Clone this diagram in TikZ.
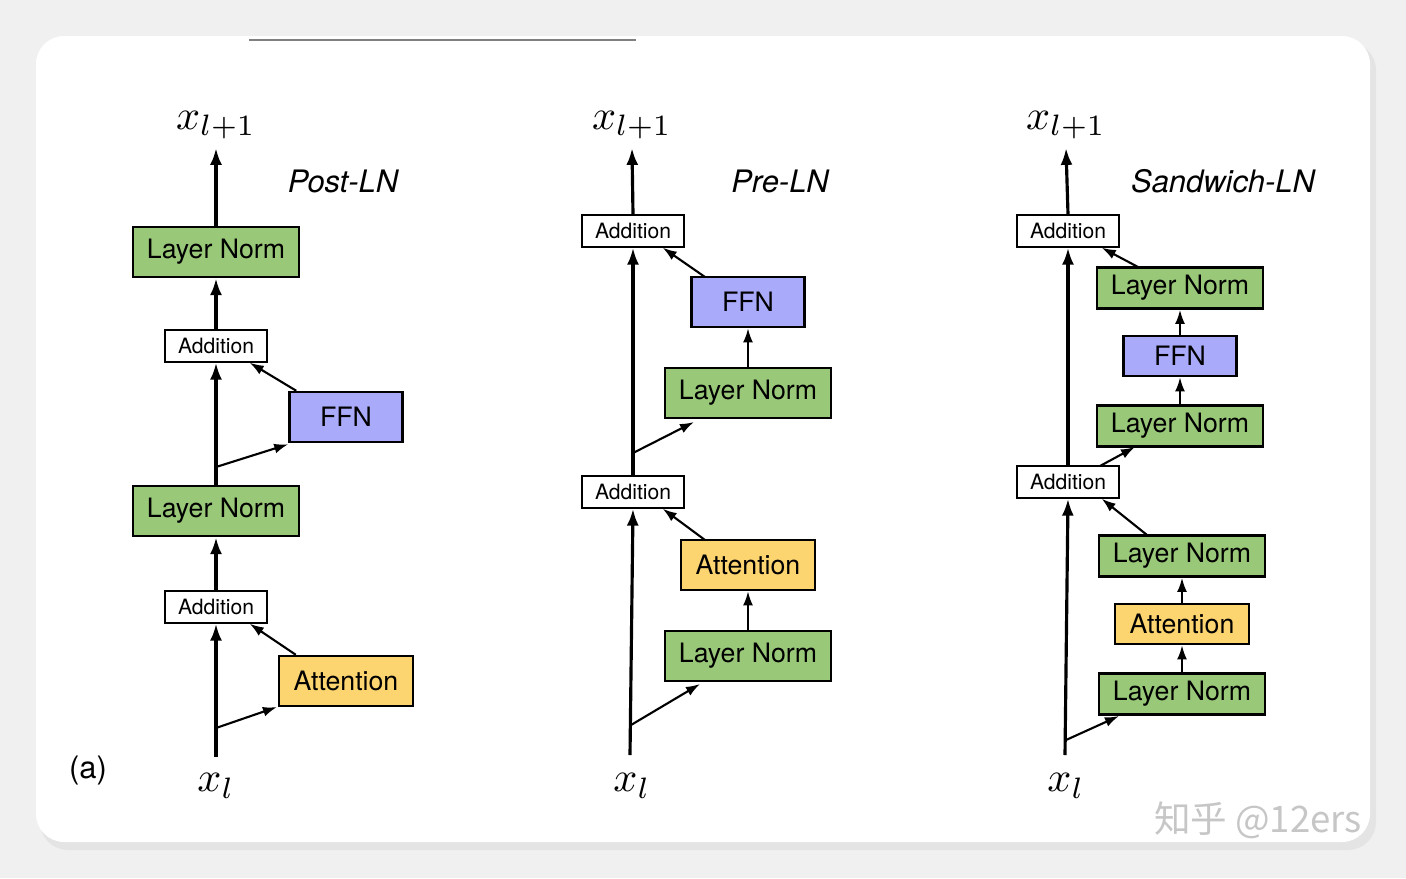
\documentclass[tikz,border=0pt]{standalone}
\usepackage{fontspec}
\setmainfont{TeX Gyre Heros}
\newfontfamily\cjk{Noto Sans CJK SC}
\usetikzlibrary{arrows.meta}
\definecolor{lngreen}{RGB}{152,200,120}
\definecolor{ffnblue}{RGB}{170,170,250}
\definecolor{attyel}{RGB}{252,212,112}
\begin{document}
\begin{tikzpicture}[x=0.05cm,y=-0.05cm,
  box/.style={draw=black,line width=3.5pt,inner sep=0pt,font=\fontsize{38}{40}\selectfont},
  ln/.style={box,fill=lngreen,minimum width=8.3cm,minimum height=2.5cm},
  lns/.style={box,fill=lngreen,minimum width=8.3cm,minimum height=2.05cm},
  ffn/.style={box,fill=ffnblue,minimum width=5.65cm,minimum height=2.5cm},
  ffns/.style={box,fill=ffnblue,minimum width=5.65cm,minimum height=2cm},
  att/.style={box,fill=attyel,minimum width=6.7cm,minimum height=2.5cm},
  atts/.style={box,fill=attyel,minimum width=6.7cm,minimum height=2cm},
  add/.style={draw=black,line width=2pt,fill=white,inner sep=0pt,minimum width=5.1cm,minimum height=1.6cm,font=\fontsize{30}{32}\selectfont},
  main/.style={line width=4.5pt,-{Latex[length=24pt,width=17pt]}},
  side/.style={line width=3pt,-{Latex[length=20pt,width=14pt]}},
  mathlbl/.style={scale=6},
  title/.style={font=\fontsize{44}{46}\selectfont\itshape}]
\useasboundingbox (0,0) rectangle (1406,878);
\fill[gray!12] (0,0) rectangle (1406,878);
\fill[gray!30,opacity=0.5] (40,42) [rounded corners=40pt] rectangle (1376,850);
\fill[white,rounded corners=40pt] (36,36) rectangle (1370,842);
\draw[gray,line width=1.5pt] (249,40) -- (636,40);

% ---------- Post-LN ----------
\node[mathlbl] (pxo) at (216,125) {$x_{l+1}$};
\node[mathlbl] (pxi) at (216,786) {$x_l$};
\node[title] at (343,181) {Post-LN};
\node[ln] (pln1) at (216,252) {Layer Norm};
\node[add] (padd1) at (216,346) {Addition};
\node[ffn] (pffn) at (346,417) {FFN};
\node[ln] (pln2) at (216,511) {Layer Norm};
\node[add] (padd2) at (216,607) {Addition};
\node[att] (patt) at (346,681) {Attention};
\coordinate (pb0) at (216,757);
\coordinate (pb1) at (216,728);
\coordinate (pb2) at (216,467);
\coordinate (pt) at (216,148);
\draw[main] (pb0) -- (padd2.south);
\draw[side] (pb1) -- (277,707);
\draw[side] (patt.north west) ++(18,0) -- ([xshift=-0.9cm]padd2.south east);
\draw[main] (padd2.north) -- (pln2.south);
\draw[main] (pln2.north) -- (padd1.south);
\draw[side] (pb2) -- ([yshift=-0.05cm]pffn.south west);
\draw[side] (pffn.north west) ++(8,0) -- ([xshift=-0.9cm]padd1.south east);
\draw[main] (padd1.north) -- (pln1.south);
\draw[main] (pln1.north) -- (pt);

% ---------- Pre-LN ----------
\node[mathlbl] (rxo) at (632,125) {$x_{l+1}$};
\node[mathlbl] (rxi) at (632,786) {$x_l$};
\node[title] at (780,181) {Pre-LN};
\node[add] (radd1) at (633,231) {Addition};
\node[ffn] (rffn) at (748,302) {FFN};
\node[ln] (rln1) at (748,393) {Layer Norm};
\node[add] (radd2) at (633,492) {Addition};
\node[att] (ratt) at (748,565) {Attention};
\node[ln] (rln2) at (748,656) {Layer Norm};
\coordinate (rb0) at (630,755);
\coordinate (rb1) at (631,725);
\coordinate (rb2) at (633,453);
\coordinate (rt) at (632,148);
\draw[main] (rb0) -- (radd2.south);
\draw[side] (rb1) -- (700,684);
\draw[side] (rln2.north) -- (ratt.south);
\draw[side] (705,540) -- ([xshift=-1.1cm]radd2.south east);
\draw[main] (radd2.north) -- (radd1.south);
\draw[side] (rb2) -- (694,422);
\draw[side] (rln1.north) -- (rffn.south);
\draw[side] (705,277) -- ([xshift=-1.1cm]radd1.south east);
\draw[main] (radd1.north) -- (rt);

% ---------- Sandwich-LN ----------
\node[mathlbl] (sxo) at (1066,125) {$x_{l+1}$};
\node[mathlbl] (sxi) at (1066,786) {$x_l$};
\node[title] at (1223,181) {Sandwich-LN};
\node[add] (sadd1) at (1068,231) {Addition};
\node[lns] (sln1) at (1180,288) {Layer Norm};
\node[ffns] (sffn) at (1180,356) {FFN};
\node[lns] (sln2) at (1180,426) {Layer Norm};
\node[add] (sadd2) at (1068,482) {Addition};
\node[lns] (sln3) at (1182,556) {Layer Norm};
\node[atts] (satt) at (1182,624) {Attention};
\node[lns] (sln4) at (1182,694) {Layer Norm};
\coordinate (sb0) at (1065,755);
\coordinate (sb1) at (1066,740);
\coordinate (sb2) at (1100,466);
\coordinate (st) at (1066,148);
\draw[main] (sb0) -- (sadd2.south);
\draw[side] (sb1) -- (1119,716);
\draw[side] (sln4.north) -- (satt.south);
\draw[side] (satt.north) -- (sln3.south);
\draw[side] (1147,535) -- ([xshift=-0.9cm]sadd2.south east);
\draw[main] (sadd2.north) -- (sadd1.south);
\draw[side] (sb2) -- (1135,447);
\draw[side] (sln2.north) -- (sffn.south);
\draw[side] (sffn.north) -- (sln1.south);
\draw[side] (1138,267) -- ([xshift=-0.9cm]sadd1.south east);
\draw[main] (sadd1.north) -- (st);

\node[font=\fontsize{44}{46}\selectfont] at (88,770) {(a)};
\node[font=\fontsize{52}{54}\selectfont\cjk,text=gray!45] at (1258,820) {知乎 @12ers};
\end{tikzpicture}
\end{document}
